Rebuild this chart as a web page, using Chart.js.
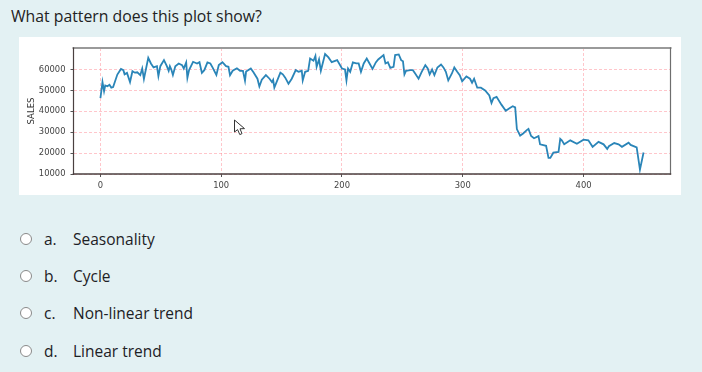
<!DOCTYPE html>
<html><head><meta charset="utf-8">
<script src="https://cdn.jsdelivr.net/npm/chart.js@4/dist/chart.umd.min.js"></script>
<style>
html,body{margin:0;padding:0;background:#e3f1f3;width:702px;height:372px;overflow:hidden}
body{position:relative;font-family:"Open Sans",sans-serif;color:#222}
#q{position:absolute;left:11px;top:5px;font-size:15.8px;line-height:22px;white-space:nowrap}
#panel{position:absolute;left:19px;top:37px;width:662px;height:158px;background:#fff}
canvas{display:block}
.o{position:absolute;left:0;height:22px;line-height:22px;font-size:15.5px;white-space:nowrap;color:#1d2125}
.o i{position:absolute;left:20px;top:5px;width:10px;height:10px;border:1.6px solid #8a8a8a;border-radius:50%;background:#fff}
.o span{position:absolute;top:0}
.o .l{left:44px}.o .t{left:73px}
#cur{position:absolute;left:233px;top:119px}
</style></head><body>
<div id="q">What pattern does this plot show?</div>
<div id="panel"><canvas id="c" width="662" height="158"></canvas></div>
<svg id="cur" width="14" height="17" viewBox="0 0 14 17"><path d="M1.5 1 L1.5 13 L4.6 10.6 L6.8 15.6 L9 14.6 L7 9.8 L11.5 9.6 Z" fill="#fff" stroke="#333" stroke-width="1"/></svg>
<div class="o" style="top:228px"><i></i><span class="l">a.</span><span class="t">Seasonality</span></div>
<div class="o" style="top:265px"><i></i><span class="l">b.</span><span class="t">Cycle</span></div>
<div class="o" style="top:302px"><i></i><span class="l">c.</span><span class="t">Non-linear trend</span></div>
<div class="o" style="top:340px"><i></i><span class="l">d.</span><span class="t">Linear trend</span></div>
<script>
const xTickValues=[0,100,200,300,400];
const yTickValues=[10000,20000,30000,40000,50000,60000];
const yAxisLabel="SALES";
const xValues=[0,1.7,3,4,5.8,7.5,9,10.5,14,17,19,20,22,24.5,26.5,28.5,30.5,33,34.6,36,39.6,41.8,44,46.8,48,49.6,52.6,55,56.5,57.5,58.7,60,62,64.8,67.6,69,71,72,73.4,76.7,80,82,84,86,88.6,91,92.8,96,98,101,104,106,107.3,109.5,113,115.6,118,119.7,120.6,124.5,126.7,130,131.6,133.6,137,140,142,143,144,149,151,153,155.7,158.4,161.7,164,166.7,167.5,169.5,172,173.6,176.4,178,179,181,182.5,186,188.8,191.5,196,200,202.5,203.7,205,206.8,209,211.8,213.8,215.7,218,220.5,222.8,225.3,228,230,234.4,236,238,240,242.7,244,247,249,250.5,251.7,253,256.5,258.7,260.6,263.4,266,269,271,272.6,274.6,276.5,279,282,284,286,288,291,293,295.4,297.5,299.5,303,306,307.7,309.4,312,315,318.5,322,323.8,325.4,328,332,335.6,339,341.4,343.4,344.8,347.5,350,353,354.4,356.6,359,362.7,364,369,371,372.5,375,379.3,380.7,382,384,389,394.5,400,404,407.5,412.4,416.6,419.6,421,425.4,429,431.8,437.3,439,444,446.7,449.7];
const salesValues=[46300,54000,49600,52400,52000,52700,51300,51600,57600,60300,59700,57700,58400,54000,59200,58500,58700,57300,60500,55500,65600,62900,61000,61600,56800,61600,64500,61600,59400,61600,60000,57400,61600,62900,62100,60500,63400,56000,59700,63700,62900,63500,58400,59700,63400,62900,61000,57400,62100,63500,61600,61300,57300,59400,60600,59400,59400,54700,59000,60500,58700,55600,51900,55100,57300,55600,54000,55100,51300,58500,57700,56100,53200,55600,59700,58900,59400,54800,58900,59400,65300,64200,66500,61300,64900,59400,67400,65800,63500,64500,60500,60000,54800,60500,58900,63400,62900,62900,58900,62900,65300,62900,60300,63400,64800,66900,62900,63500,60800,61300,66900,67200,64500,63900,57700,59400,59700,59700,58100,55600,58900,62100,60500,57700,60000,57300,61000,62400,61000,58900,54800,58100,61000,58900,57300,54400,56700,55600,53700,55600,51300,51300,50000,47600,44000,46300,46900,43200,40300,41600,42400,41900,31500,28400,29400,31000,31600,28200,27100,28100,24200,23500,17700,17700,20200,20600,26800,26100,24200,26100,24500,26400,26100,23000,25400,24200,22000,23300,24800,24200,23000,25000,23900,22700,12100,20300];

const axesFrame={id:'axesFrame',afterDraw(ch){
  const a=ch.chartArea,g=ch.ctx;g.save();
  g.lineCap='square';
  g.strokeStyle='#9a9a9a';g.lineWidth=2;
  g.beginPath();g.moveTo(a.left,a.top);g.lineTo(a.right,a.top);g.stroke();
  g.lineWidth=1.2;g.strokeStyle='#6e6e6e';
  g.beginPath();g.moveTo(a.right,a.top);g.lineTo(a.right,a.bottom);g.stroke();
  g.strokeStyle='#4a4040';
  g.beginPath();g.moveTo(a.left,a.top);g.lineTo(a.left,a.bottom);g.stroke();
  g.lineWidth=1.4;
  g.beginPath();g.moveTo(a.left,a.bottom);g.lineTo(a.right,a.bottom);g.stroke();
  g.restore();
}};
const gridStyle={color:'rgba(255,120,130,0.42)',lineWidth:1,tickColor:'#555',tickLength:3,drawTicks:true};
new Chart(document.getElementById('c'),{
  type:'line',
  data:{datasets:[{data:xValues.map((x,i)=>({x:x,y:salesValues[i]})),borderColor:'#2a85b8',borderWidth:1.8,pointRadius:0,tension:0,fill:false}]},
  plugins:[axesFrame],
  options:{
    responsive:false,animation:false,
    layout:{padding:{top:11,right:10.5,bottom:0,left:0}},
    plugins:{legend:{display:false},tooltip:{enabled:false},title:{display:false}},
    scales:{
      x:{type:'linear',min:-22.3,max:472,
        afterBuildTicks(s){s.ticks=xTickValues.map(v=>({value:v}));},
        afterFit(s){s.height=21;},
        grid:gridStyle,
        border:{display:false,dash:[3,2]},
        ticks:{color:'#444',font:{family:'DejaVu Sans',size:8.4},maxRotation:0,autoSkip:false,padding:4,callback:v=>String(v)}},
      y:{type:'linear',min:10000,max:70300,
        afterBuildTicks(s){s.ticks=yTickValues.map(v=>({value:v}));},
        afterFit(s){s.width=54.5;},
        grid:gridStyle,
        border:{display:false,dash:[3,2]},
        title:{display:true,text:yAxisLabel,color:'#333',font:{family:'DejaVu Sans',size:8.5},padding:{top:8,bottom:0}},
        ticks:{color:'#444',font:{family:'DejaVu Sans',size:8.4},autoSkip:false,padding:5,callback:v=>String(v)}}
    }
  }
});
</script>
</body></html>
